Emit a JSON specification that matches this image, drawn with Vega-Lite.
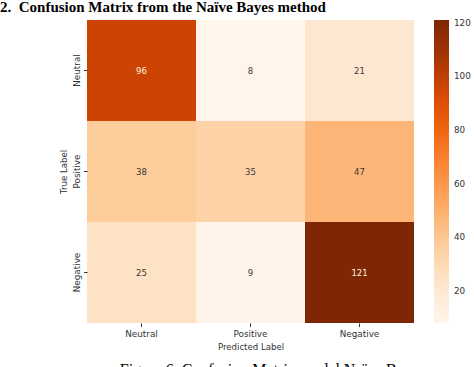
{
  "$schema": "https://vega.github.io/schema/vega-lite/v6.json",
  "autosize": "none",
  "padding": {"left": 87, "top": 20, "right": 60, "bottom": 44},
  "width": 327,
  "height": 303,
  "background": "white",
  "title": {"text": "2.\u00a0\u00a0Confusion Matrix from the Naïve Bayes method", "anchor": "start", "frame": "group", "font": "Liberation Serif", "fontSize": 15, "fontWeight": "bold", "color": "#000", "dx": -87, "offset": 5},
  "data": {"values": [
    {"actual": "Neutral", "predicted": "Neutral", "count": 96},
    {"actual": "Neutral", "predicted": "Positive", "count": 8},
    {"actual": "Neutral", "predicted": "Negative", "count": 21},
    {"actual": "Positive", "predicted": "Neutral", "count": 38},
    {"actual": "Positive", "predicted": "Positive", "count": 35},
    {"actual": "Positive", "predicted": "Negative", "count": 47},
    {"actual": "Negative", "predicted": "Neutral", "count": 25},
    {"actual": "Negative", "predicted": "Positive", "count": 9},
    {"actual": "Negative", "predicted": "Negative", "count": 121}
  ]},
  "encoding": {
    "y": {"field": "actual", "type": "nominal", "sort": ["Neutral", "Positive", "Negative"], "title": "True Label", "scale": {"paddingInner": 0, "paddingOuter": 0}, "axis": {"labelAngle": 270, "labelAlign": "center", "labelBaseline": "bottom", "labelPadding": 2, "titlePadding": 4}}
  },
  "layer": [
    {
      "mark": {"type": "rect"},
      "encoding": {
        "x": {"field": "predicted", "type": "nominal", "sort": ["Neutral", "Positive", "Negative"], "title": "Predicted Label", "scale": {"paddingInner": 0, "paddingOuter": 0}, "axis": {"labelAngle": 0, "titlePadding": 4, "labelPadding": 3}},
        "color": {"field": "count", "type": "quantitative", "scale": {"domain": [8, 22.125, 36.25, 50.375, 64.5, 78.625, 92.75, 106.875, 121], "range": ["#fff5eb", "#fee6ce", "#fdd0a2", "#fdae6b", "#fd8d3c", "#f16913", "#d94801", "#a63603", "#7f2704"]}, "legend": {"title": null, "gradientLength": 303, "gradientThickness": 15, "values": [20, 40, 60, 80, 100, 120], "labelFontSize": 8.8, "labelFont": "DejaVu Sans", "labelColor": "#333", "offset": 20, "labelOffset": 5, "gradientStrokeWidth": 0}}
      }
    },
    {
      "mark": {"type": "text", "font": "DejaVu Sans", "fontSize": 8.5},
      "encoding": {
        "x": {"field": "predicted", "type": "nominal", "sort": ["Neutral", "Positive", "Negative"], "title": "Figure 6. Confusion Matrix model Naïve Bayes", "axis": {"orient": "bottom", "labels": false, "ticks": false, "domain": false, "titleFont": "Liberation Serif", "titleFontSize": 16, "titleColor": "#000", "titleX": 185, "titleY": 51, "titleBaseline": "alphabetic", "titleAnchor": "middle", "titleAlign": "center"}},
        "text": {"field": "count", "type": "quantitative"},
        "color": {"condition": {"test": "datum.count > 70", "value": "#fff0e0"}, "value": "#3a3a3a"}
      }
    }
  ],
  "resolve": {"axis": {"x": "independent"}},
  "config": {
    "view": {"stroke": null},
    "axis": {"domain": false, "tickColor": "#333", "tickSize": 3.5, "labelFont": "DejaVu Sans", "labelFontSize": 8.8, "labelColor": "#333", "titleFont": "DejaVu Sans", "titleFontSize": 8.6, "titleFontWeight": "normal", "titleColor": "#333", "grid": false}
  }
}
